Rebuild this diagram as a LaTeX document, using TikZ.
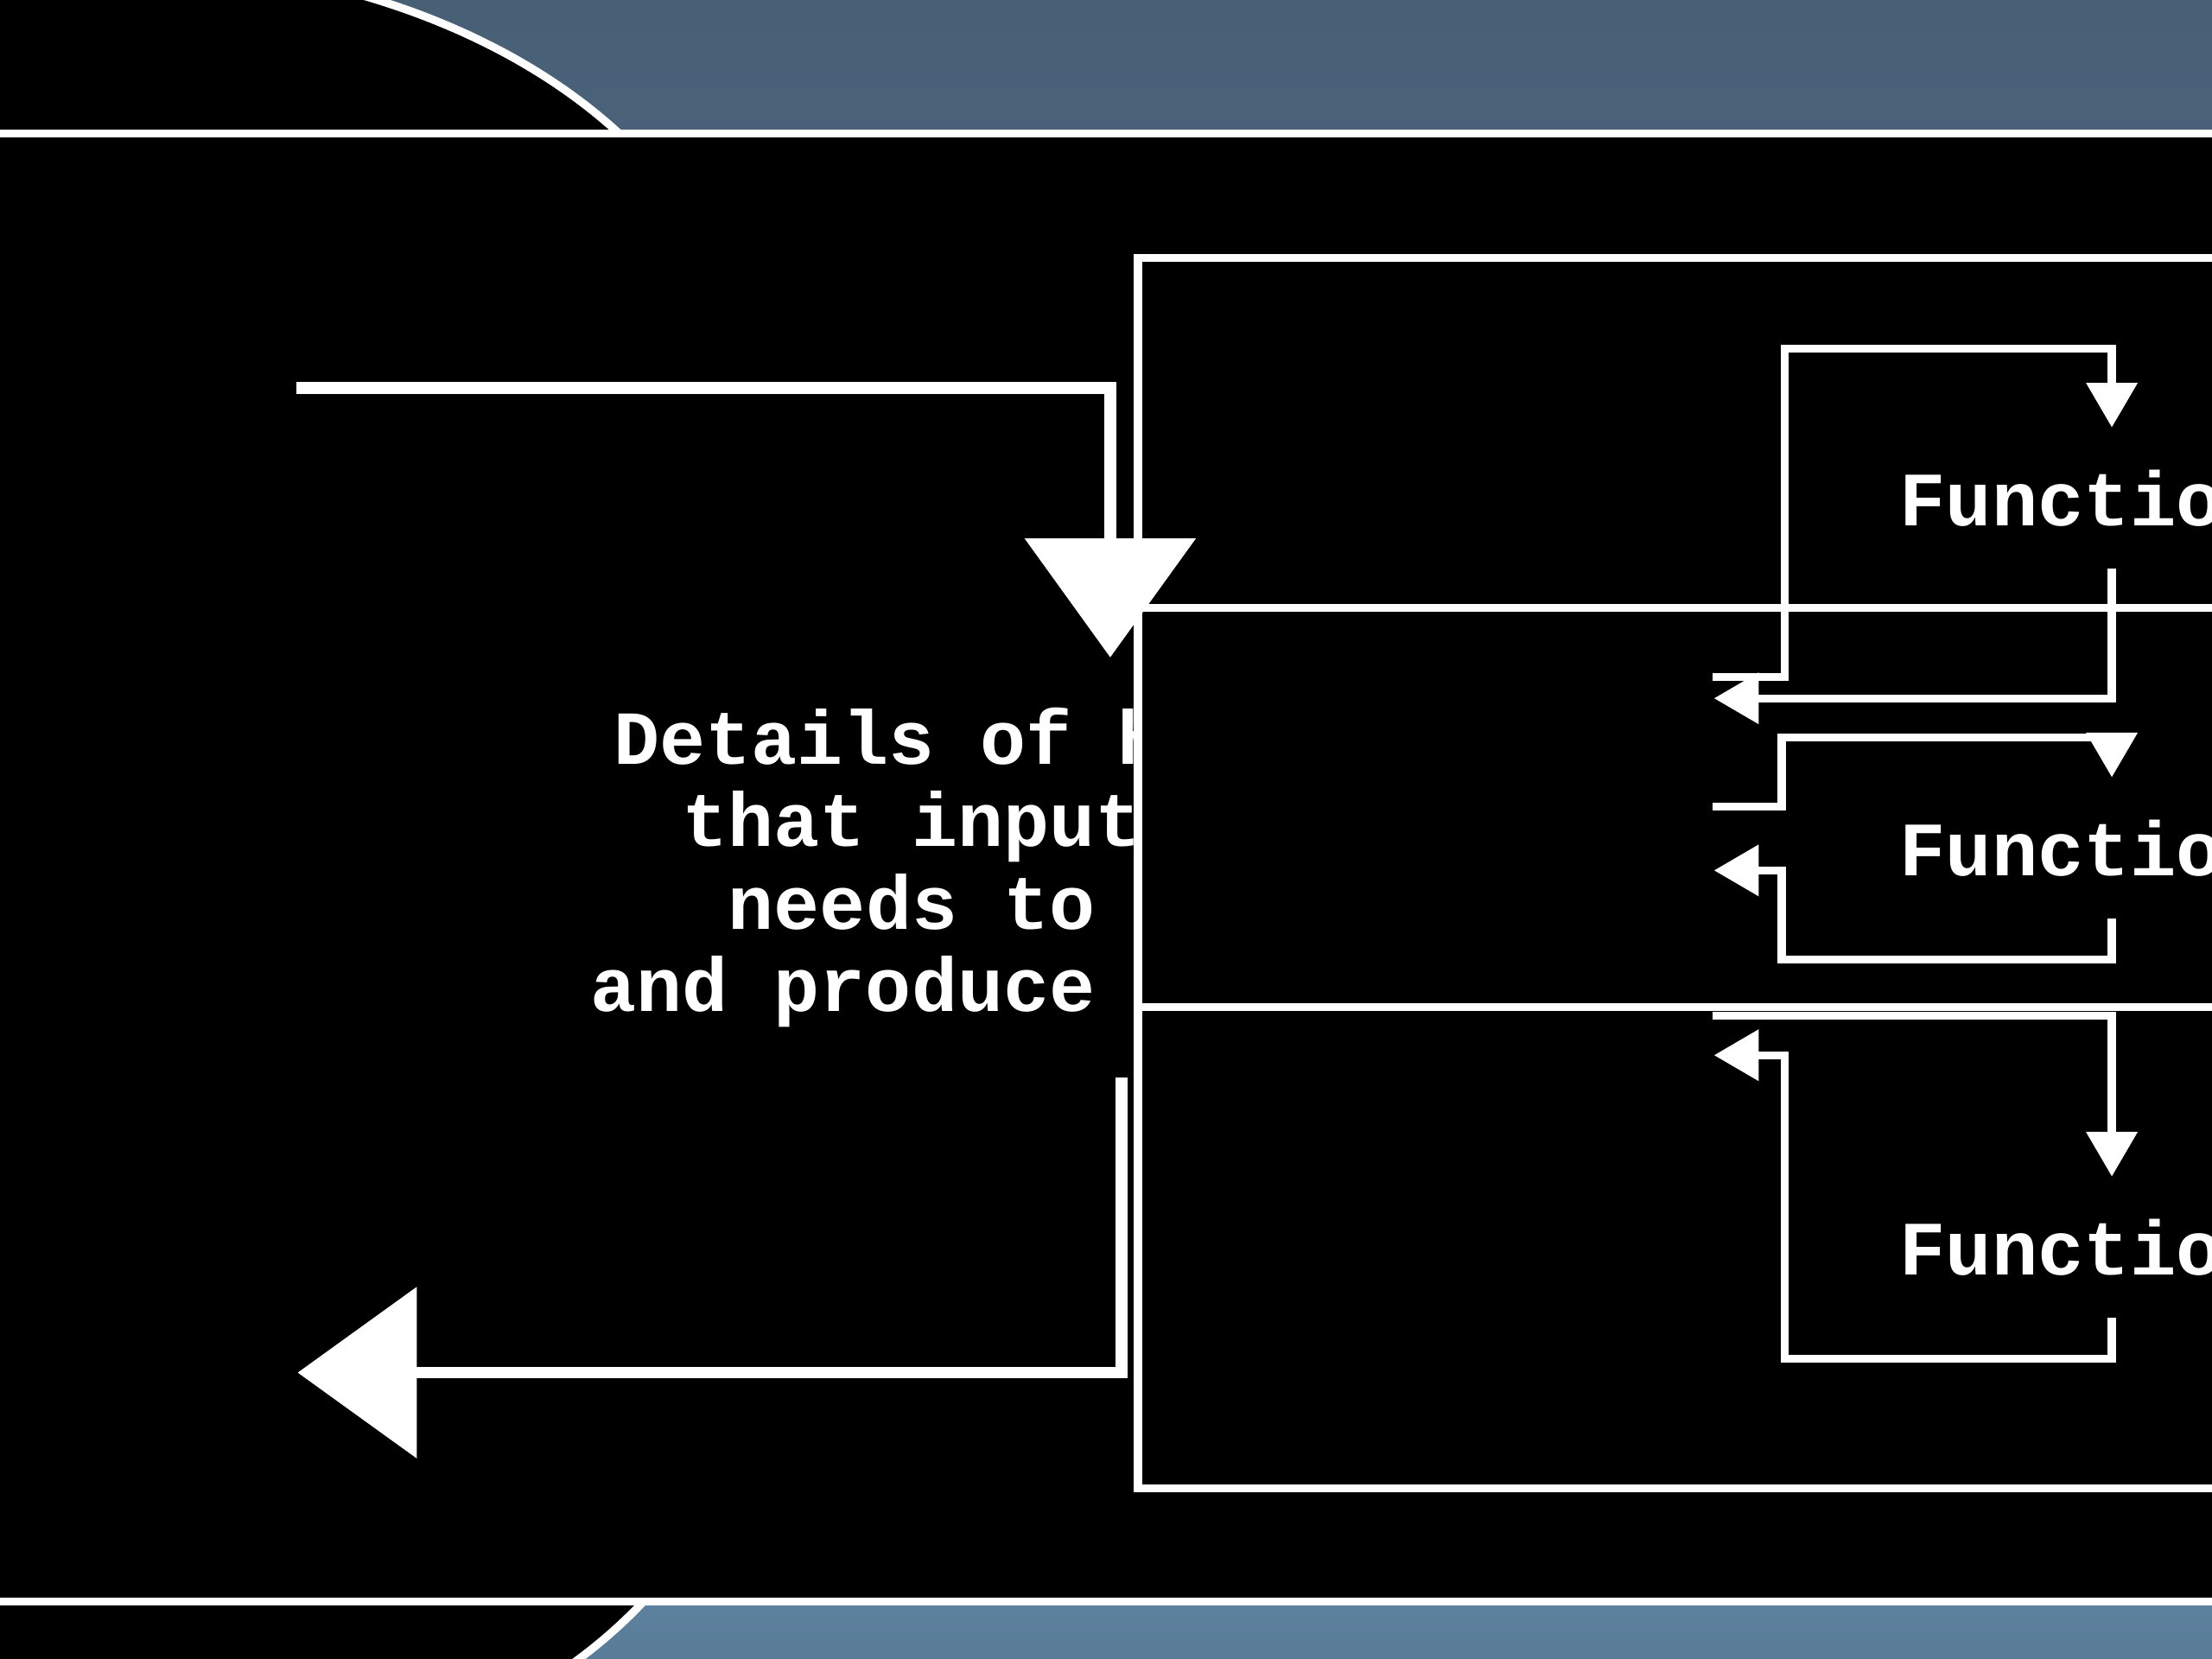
\documentclass[tikz,border=0pt]{standalone}
\usepackage{fontspec}
\setmonofont{Liberation Mono}
\usetikzlibrary{arrows.meta,shapes.geometric}
\begin{document}
\begin{tikzpicture}[x=0.01cm,y=-0.01cm,
  txt/.style={text=white,font=\ttfamily\bfseries},
  blk/.style={fill=black,draw=white,line width=1.6pt},
  con/.style={draw=white,line width=1.6pt},
  sarr/.style={con,-{Triangle[length=9pt,width=10pt]}},
  barr/.style={draw=white,line width=2.4pt,-{Triangle[length=24pt,width=34pt]}}]
\useasboundingbox (0,0) rectangle (1568,1176);
\clip (0,0) rectangle (1568,1176);
\shade[top color={rgb,255:red,72;green,96;blue,118},bottom color={rgb,255:red,80;green,110;blue,135}] (0,0) rectangle (1568,560);
\shade[top color={rgb,255:red,80;green,110;blue,135},bottom color={rgb,255:red,60;green,84;blue,104}] (0,560) rectangle (1568,685);
\shade[top color={rgb,255:red,95;green,128;blue,155},bottom color={rgb,255:red,122;green,163;blue,195}] (0,685) rectangle (1568,900);
\shade[top color={rgb,255:red,122;green,163;blue,195},bottom color={rgb,255:red,88;green,124;blue,152}] (0,900) rectangle (1568,1176);
\node[txt,font=\ttfamily\bfseries\fontsize{20}{24}\selectfont] (title) at (792,140) {Creating a Function};
\node[blk,ellipse,minimum width=250,minimum height=170,inner sep=0] (in) at (85,272) {};
\node[blk,ellipse,minimum width=250,minimum height=170,inner sep=0] (out) at (85,975) {};
\node[txt,anchor=east,font=\ttfamily\bfseries\fontsize{18}{22}\selectfont] (inl) at (690,395) {Input from something};
\node[txt,anchor=east,font=\ttfamily\bfseries\fontsize{18}{22}\selectfont] (outl) at (670,830) {Output to something};
\node[blk,minimum width=841,minimum height=296,inner sep=0] (main) at (792.5,615) {};
\node[txt,align=center,font=\ttfamily\bfseries\fontsize{15.4}{16.6}\selectfont] (mt) at (792.5,615) {Details of how to take\\that input, do what\\needs to be done,\\and produce that output};
\foreach \n/\y in {f1/353.5,f2/601.5,f3/884.5}{
  \node[blk,minimum width=400,minimum height=97,inner sep=0] (\n) at (1510,\y) {};
  \node[txt,anchor=west,font=\ttfamily\bfseries\fontsize{15.5}{18}\selectfont] at (1334,\y) {Function};
}
\draw[barr] (210,275) -- (787,275) -- (787,466);
\draw[barr] (795,764) -- (795,973) -- (211,973);
\draw[sarr] (1214,480) -- (1265,480) -- (1265,247) -- (1497,247) -- (1497,303);
\draw[sarr] (1497,403) -- (1497,495) -- (1215,495);
\draw[sarr] (1214,572) -- (1263,572) -- (1263,523) -- (1497,523) -- (1497,551);
\draw[sarr] (1497,651) -- (1497,680) -- (1263,680) -- (1263,617) -- (1215,617);
\draw[sarr] (1214,720) -- (1497,720) -- (1497,834);
\draw[sarr] (1497,934) -- (1497,963) -- (1265,963) -- (1265,748) -- (1215,748);
\end{tikzpicture}
\end{document}
